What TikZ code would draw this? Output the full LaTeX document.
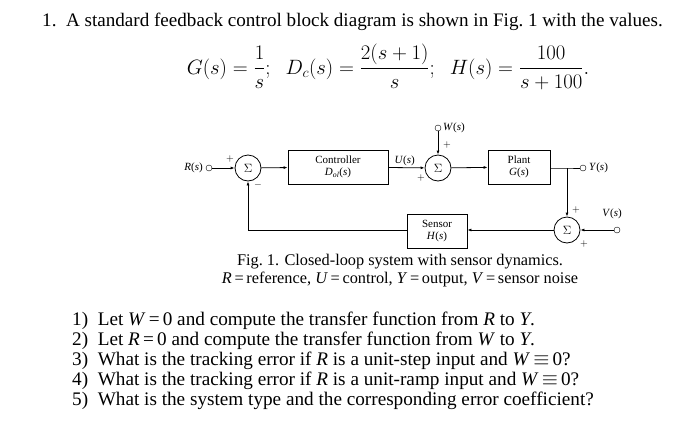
\documentclass[tikz,border=0pt]{standalone}
\usepackage{amsmath}
\usepackage{fontspec}
\setmainfont{Liberation Serif}
\usetikzlibrary{arrows.meta}
\newcommand{\fs}[1]{\textit{#1}(\textit{s})}
\begin{document}
\begin{tikzpicture}[x=1pt,y=-1pt,
  blk/.style={draw,thick,minimum width=#1,minimum height=34pt,inner sep=0pt,align=center,font=\fontsize{11}{12.5}\selectfont},
  sum/.style={draw,thick,circle,minimum size=26pt,inner sep=0pt,font=\fontsize{12}{12}\selectfont},
  term/.style={draw,circle,minimum size=6pt,inner sep=0pt,fill=white},
  lab/.style={font=\fontsize{11}{12}\selectfont,inner sep=1pt},
  sg/.style={font=\fontsize{10}{10}\selectfont,inner sep=0pt},
  arr/.style={-{Latex[length=4pt,width=3pt]},thick},
  ln/.style={thick},
  txt/.style={anchor=west,inner sep=0pt,font=\fontsize{19.2}{21}\selectfont}]
\useasboundingbox (0,0) rectangle (700,442);
\node[anchor=west,inner sep=0pt,font=\fontsize{19.1}{21}\selectfont] (title) at (42,22) {1.\ \ A standard feedback control block diagram is shown in Fig.~1 with the values.};
\node[inner sep=0pt,font=\fontsize{21.5}{23}\selectfont] (eq) at (388,67) {$G(s)=\dfrac{1}{s};\;\; D_c(s)=\dfrac{2(s+1)}{s};\;\; H(s)=\dfrac{100}{s+100}.$};
% diagram
\node[term] (r) at (209,168) {};
\node[lab,anchor=east] (rl) at (204,168) {\fs{R}};
\node[sum] (s1) at (248,168) {$\Sigma$};
\node[blk=100pt] (c) at (338,167) {Controller\\\textit{D\textsubscript{ol}}(\textit{s})};
\node[sum] (s2) at (438,168) {$\Sigma$};
\node[term] (w) at (438,128) {};
\node[lab,anchor=west] (wl) at (442,128) {\fs{W}};
\node[blk=62pt] (p) at (519,167) {Plant\\\fs{G}};
\coordinate (br) at (567,168);
\node[term] (y) at (583,168) {};
\node[lab,anchor=west] (yl) at (588,168) {\fs{Y}};
\node[sum] (s3) at (567,230) {$\Sigma$};
\node[term] (v) at (617,230) {};
\node[lab] (vl) at (612,214) {\fs{V}};
\node[blk=60pt] (h) at (437,231) {Sensor\\\fs{H}};
\coordinate (fb) at (248,230);
\draw[arr] (r) -- (s1);
\draw[arr] (s1) -- (c);
\draw[arr] (c) -- node[lab,above,pos=0.45] (ul) {\fs{U}} (s2);
\draw[arr] (w) -- (s2);
\draw[arr] (s2) -- (p);
\draw[ln] (p.east|-br) -- (br) -- (y);
\draw[arr] (br) -- (s3);
\draw[arr] (v) -- (s3);
\draw[arr] (s3) -- (h.east|-s3);
\draw[ln] (h.west|-fb) -- (fb);
\draw[arr] (fb) -- (s1);
\node[sg] (p1) at (230,159) {$+$};
\node[sg] (m1) at (258,185) {$-$};
\node[sg] (p2) at (447,145) {$+$};
\node[sg] (p3) at (421,178) {$+$};
\node[sg] (p4) at (576,210) {$+$};
\node[sg] (p5) at (584,244) {$+$};
% caption
\node[inner sep=0pt,font=\fontsize{16.3}{18}\selectfont] (cap1) at (400,262) {Fig.~1. Closed-loop system with sensor dynamics.};
\node[inner sep=0pt,font=\fontsize{16.3}{18}\selectfont] (cap2) at (400,279) {\textit{R}\,=\,reference, \textit{U}\,=\,control, \textit{Y}\,=\,output, \textit{V}\,=\,sensor noise};
\node[txt] (q1) at (72,321) {1)\ \ Let \textit{W}\,=\,0 and compute the transfer function from \textit{R} to \textit{Y}.};
\node[txt] (q2) at (72,341) {2)\ \ Let \textit{R}\,=\,0 and compute the transfer function from \textit{W} to \textit{Y}.};
\node[txt] (q3) at (72,361) {3)\ \ What is the tracking error if \textit{R} is a unit-step input and \textit{W}\,$\equiv$\,0?};
\node[txt] (q4) at (72,381) {4)\ \ What is the tracking error if \textit{R} is a unit-ramp input and \textit{W}\,$\equiv$\,0?};
\node[txt] (q5) at (72,401) {5)\ \ What is the system type and the corresponding error coefficient?};
\end{tikzpicture}
\end{document}
